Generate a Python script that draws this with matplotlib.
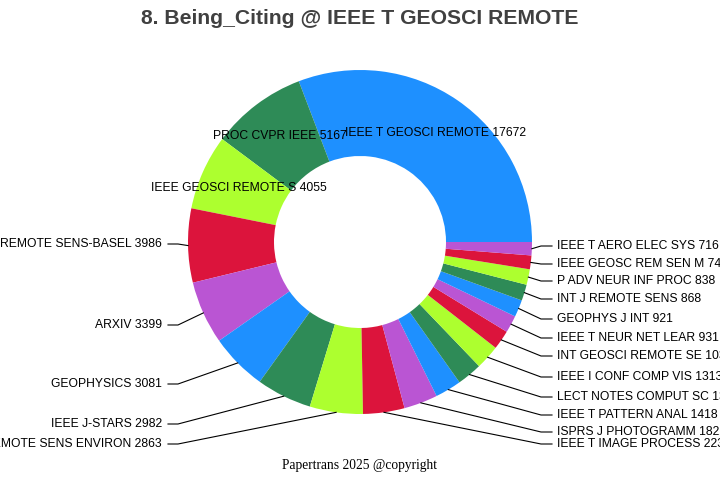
import matplotlib
matplotlib.use("Agg")
import matplotlib.pyplot as plt
import numpy as np

# data
journals = ['IEEE T GEOSCI REMOTE', 'PROC CVPR IEEE', 'IEEE GEOSCI REMOTE S', 'REMOTE SENS-BASEL',
            'ARXIV', 'GEOPHYSICS', 'IEEE J-STARS', 'REMOTE SENS ENVIRON',
            'IEEE T IMAGE PROCESS', 'ISPRS J PHOTOGRAMM', 'IEEE T PATTERN ANAL', 'LECT NOTES COMPUT SC',
            'IEEE I CONF COMP VIS', 'INT GEOSCI REMOTE SE', 'IEEE T NEUR NET LEAR', 'GEOPHYS J INT',
            'INT J REMOTE SENS', 'P ADV NEUR INF PROC', 'IEEE GEOSC REM SEN M', 'IEEE T AERO ELEC SYS']
counts = [17672, 5167, 4055, 3986, 3399, 3081, 2982, 2863,
          2235, 1822, 1418, 1350, 1313, 1035, 931, 921, 868, 838, 742, 716]
palette = ['#1E90FF', '#2E8B57', '#ADFF2F', '#DC143C', '#BA55D3']

# layout (pixel coordinates, measured from the top)
W, H = 720, 480
cx, cy, R = 360, 242, 172
inside = [0, 1, 2]
outside_y = {3: 244, 4: 325, 5: 384, 6: 424, 7: 444,
             8: 444, 9: 432, 10: 415, 11: 397, 12: 377, 13: 356,
             14: 338, 15: 319, 16: 299, 17: 281, 18: 264, 19: 246}
fs = 8.75

fig = plt.figure(figsize=(7.2, 4.8), dpi=100)
ax = fig.add_axes([0, 0, 1, 1])

colors = [palette[i % len(palette)] for i in range(len(counts))]
wedges, _ = ax.pie(counts, colors=colors, startangle=0, counterclock=True,
                   center=(cx, H - cy), radius=R,
                   wedgeprops=dict(width=R * 0.5, linewidth=0))
ax.set_xlim(0, W)
ax.set_ylim(0, H)
ax.set_aspect('equal')
ax.axis('off')

total = sum(counts)
cum = np.cumsum([0] + counts)
for i, name in enumerate(journals):
    mid = np.deg2rad((cum[i] + counts[i] / 2) / total * 360)
    label = f'{name} {counts[i]}'
    if i in inside:
        r = R * 0.77
        ax.text(cx + r * np.cos(mid), H - cy + r * np.sin(mid), label,
                ha='center', va='center', fontsize=fs, family='Liberation Sans')
        continue
    x0 = cx + R * np.cos(mid)
    y0 = H - cy + R * np.sin(mid)
    ty = H - outside_y[i]
    if np.cos(mid) < 0:
        ax.plot([x0, 178, 168], [y0, ty, ty], color='black', lw=0.8)
        ax.text(162, ty, label, ha='right', va='center', fontsize=fs, family='Liberation Sans')
    else:
        ax.plot([x0, 541, 552], [y0, ty, ty], color='black', lw=0.8)
        ax.text(557, ty, label, ha='left', va='center', fontsize=fs, family='Liberation Sans')

fig.text(0.5, 1 - 18 / H, '8. Being_Citing @ IEEE T GEOSCI REMOTE', ha='center', va='center',
         fontsize=15.2, fontweight='bold', color='#404040', family='Liberation Sans')
fig.text(0.5, 1 - 466 / H, 'Papertrans 2025 @copyright', ha='center', va='center',
         fontsize=9.75, family='Liberation Serif')

fig.savefig('out.png', dpi=100)
